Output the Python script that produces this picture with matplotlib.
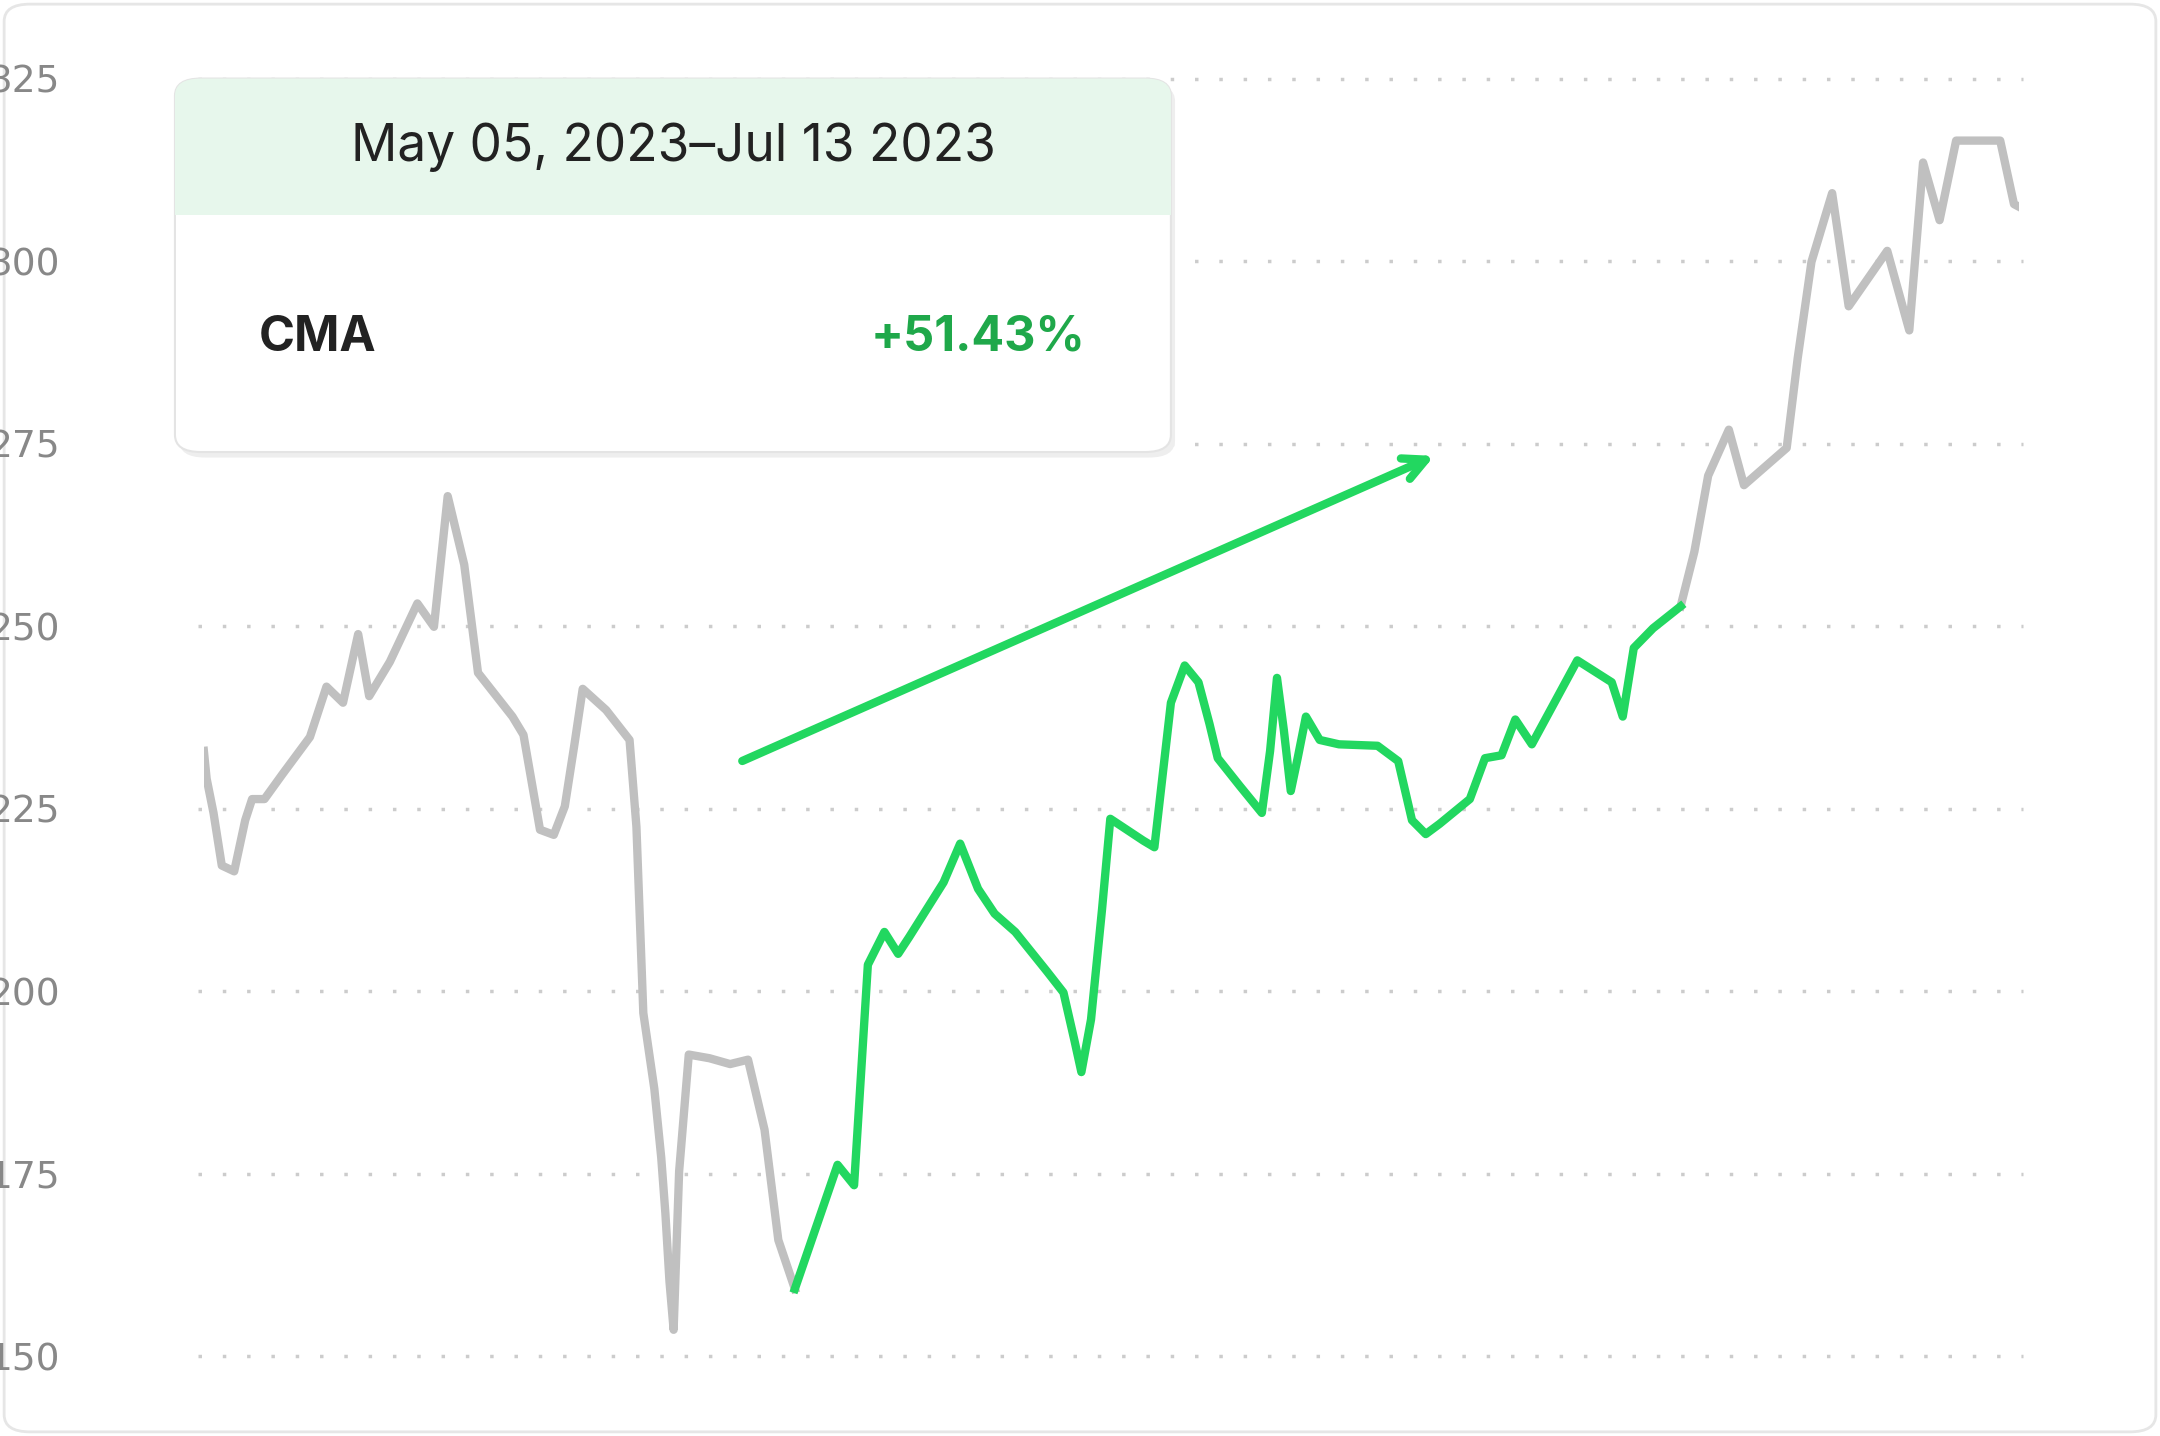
import matplotlib
matplotlib.use("Agg")
import matplotlib.pyplot as plt
from matplotlib.patches import FancyBboxPatch, Rectangle
import numpy as np

# day positions and prices
days_pre = [0,0.4,1.4,2.6,4.4,6,7,8.8,11.4,15.4,17.8,20.2,22.4,24,27,31,33.4,35.4,37.8,39.8,44.8,46.4,48.8,50.8,52.4,53.8,55,58.4,61.8,62.8,63.8,65.4,66.4,67,67.6,68.2,69,70.4,73.4,76.4,79,81.4,83.4,85.8]
price_pre = [232.9,229.1,224.4,217.2,216.4,223.4,226.3,226.3,229.7,234.8,241.7,239.5,248.9,240.4,245.1,253.1,249.9,267.8,258.4,243.6,237.6,235.1,222.1,221.4,225.3,233.8,241.4,238.5,234.4,222.5,197.0,186.6,177.2,169.6,160.2,153.6,175.3,191.3,190.8,190.0,190.6,181.0,165.9,159.2]
days_mid = [85.8,92,94.4,96.4,98.8,100.8,102.4,107.4,109.8,112.4,114.8,117.8,122.4,124.8,126.4,127.4,128.8,130.4,131.6,136.4,138,140.4,142.4,144.4,146,147.2,150.4,153.6,154.8,155.8,156.8,157.8,158.8,160,162,164.8,170.4,173.4,175.4,177.4,179.4,183.8,186,188.4,190.4,192.8,199.4,204.4,206,207.6,210.4,214.4]
price_mid = [159.2,176.2,173.4,203.6,208.1,205.1,207.4,214.9,220.2,214.0,210.6,208.1,202.7,199.8,193.2,188.9,196.1,211.2,223.6,220.6,219.7,239.5,244.6,242.3,236.6,231.9,228.1,224.4,232.9,242.9,235.7,227.4,231.9,237.6,234.4,233.8,233.6,231.5,223.4,221.5,222.9,226.3,231.9,232.3,237.2,233.8,245.3,242.3,237.6,247.0,249.7,252.7]
days_post = [214.4,216.4,218.4,221.4,223.6,229.8,231.4,233.4,236.4,238.8,244.4,247.6,249.6,252,254.4,260.8,262.8,263.6]
price_post = [252.7,260.2,270.6,276.9,269.3,274.4,286.7,299.9,309.3,293.8,301.4,290.5,313.5,305.6,316.5,316.5,307.8,307.4]
yticks = [150,175,200,225,250,275,300,325]
title = "May 05, 2023\u2013Jul 13 2023"
ticker = "CMA"
change = "+51.43%"

W, H = 1568, 1042
fig = plt.figure(figsize=(21.6, 14.36), dpi=100)
fig.patch.set_facecolor("white")
frame = FancyBboxPatch((3/W, 3/H), 1-6/W, 1-6/H, boxstyle="round,pad=0,rounding_size=0.012",
                       transform=fig.transFigure, fc="none", ec="#e6e6e6", lw=2, zorder=-5)
fig.patches.append(frame)
ax = fig.add_axes([148/W, 1-984/H, (1466-148)/W, (984-57)/H])
ax.set_zorder(1)
ax.set_xlim(0, 263.6)
ax.set_ylim(150, 325)
ax.patch.set_alpha(0)
for s in ax.spines.values():
    s.set_visible(False)
ax.set_xticks([])
ax.set_yticks(yticks)
ax.tick_params(axis="y", length=0, pad=155, labelsize=27, labelcolor="#888888")
for lab in ax.get_yticklabels():
    lab.set_horizontalalignment("left")
for v in yticks:
    ax.axhline(v, color="#cccccc", lw=2.5, ls=(0, (1, 6)), xmin=-0.003, xmax=1.002, zorder=0, clip_on=False)
gray = "#c0c0c0"; green = "#22d760"
ax.plot(days_pre, price_pre, color=gray, lw=6, solid_joinstyle="round", zorder=2)
ax.plot(days_post, price_post, color=gray, lw=6, solid_joinstyle="round", zorder=2)
ax.plot(days_mid, price_mid, color=green, lw=6, solid_joinstyle="round", zorder=3)

# trend arrow
ax.annotate("", xy=(1043/W, 1-330/H), xytext=(537/W, 1-553/H), xycoords="figure fraction",
            textcoords="figure fraction",
            arrowprops=dict(arrowstyle="->,head_length=1.6,head_width=0.8", color=green, lw=6))

# info box (overlay axes so it sits above the grid)
ov = fig.add_axes([0, 0, 1, 1])
ov.set_zorder(2)
ov.axis("off")
ov.set_xlim(0, 1); ov.set_ylim(0, 1)
bx0, bx1, by0, by1 = 127/W, 850/W, 1-328/H, 1-57/H
ov.add_patch(FancyBboxPatch((bx0+3/W, by0-4/H), bx1-bx0, by1-by0, boxstyle="round,pad=0,rounding_size=0.012",
                            fc="#eeeeee", ec="none", zorder=4))
ov.add_patch(FancyBboxPatch((bx0, by0), bx1-bx0, by1-by0, boxstyle="round,pad=0,rounding_size=0.012",
                            fc="white", ec="#e4e4e4", lw=1.5, zorder=5))
ov.add_patch(FancyBboxPatch((bx0, 1-156/H), bx1-bx0, 156/H-57/H, boxstyle="round,pad=0,rounding_size=0.012",
                            fc="#e7f7ec", ec="none", zorder=6))
ov.add_patch(Rectangle((bx0, 1-156/H), bx1-bx0, 0.02, fc="#e7f7ec", ec="none", zorder=6))
ov.text(489/W, 1-107/H, title, ha="center", va="center", fontsize=37, color="#222222", family="Inter", zorder=7)
ov.text(188/W, 1-245/H, ticker, ha="left", va="center", fontsize=35, color="#222222", family="Inter", weight="bold", zorder=7)
ov.text(788/W, 1-245/H, change, ha="right", va="center", fontsize=35, color="#1fa84a", family="Inter", weight="bold", zorder=7)

fig.savefig("out.png", dpi=100)
